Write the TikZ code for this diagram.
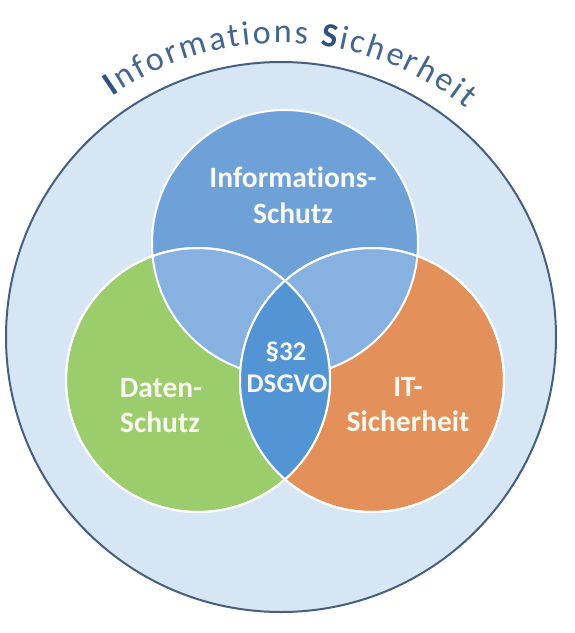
\documentclass[tikz,border=0pt]{standalone}
\usepackage{fontspec}
\setmainfont{Carlito}[Ligatures=CommonOff]
\usetikzlibrary{decorations.text,calc}
\definecolor{bgblue}{HTML}{D7E6F4}
\definecolor{rim}{HTML}{45607F}
\definecolor{infoblue}{HTML}{6FA1D9}
\definecolor{mixblue}{HTML}{86B1E0}
\definecolor{lensblue}{HTML}{5395D4}
\definecolor{dgreen}{HTML}{9CCD6C}
\definecolor{itorange}{HTML}{E4905A}
\definecolor{titlecol}{HTML}{43658E}
\definecolor{titlebold}{HTML}{2F5280}
\definecolor{labelcol}{HTML}{F8F8EE}
\begin{document}
\begin{tikzpicture}[x=1pt,y=1pt,
  lbl/.style={font=\fontsize{29.5}{34}\selectfont\bfseries, text=labelcol, inner sep=0pt, anchor=base},
  lenslbl/.style={lbl, font=\fontsize{27}{32}\selectfont\bfseries},
  whiteedge/.style={draw=white, line width=2pt}]
\useasboundingbox (0,0) rectangle (575,-633);
\fill[white] (0,0) rectangle (575,-633);
\coordinate (O) at (281,-337);
\coordinate (B) at (285,-243);
\coordinate (G) at (198,-380);
\coordinate (R) at (372,-380);
% outer circle
\filldraw[fill=bgblue, draw=rim, line width=2pt] (O) circle[radius=275];
% three circles
\fill[dgreen] (G) circle[radius=132];
\fill[itorange] (R) circle[radius=132];
\fill[infoblue] (B) circle[radius=133];
\begin{scope}
  \clip (B) circle[radius=133];
  \fill[mixblue] (G) circle[radius=132];
  \fill[mixblue] (R) circle[radius=132];
\end{scope}
\draw[whiteedge] (B) circle[radius=133];
\draw[whiteedge] (G) circle[radius=132];
\draw[whiteedge] (R) circle[radius=132];
\begin{scope}
  \clip (G) circle[radius=132];
  \fill[lensblue] (R) circle[radius=132];
\end{scope}
\draw[whiteedge] (G) circle[radius=132];
\draw[whiteedge] (R) circle[radius=132];
% title along arc
\path[decorate, decoration={text along path, text align={fit to path},
  text={|\fontsize{34}{40}\selectfont\bfseries\color{titlebold}|I|\fontsize{34}{40}\selectfont\mdseries\color{titlecol}|nformations |\fontsize{34}{40}\selectfont\bfseries\color{titlebold}|S|\fontsize{34}{40}\selectfont\mdseries\color{titlecol}|icherheit}}]
  ($(O)+(125:294)$) arc[start angle=125, end angle=51, radius=294];
% labels
\node[lbl] (info1) at (293,-187) {Informations-};
\node[lbl] (info2) at (293,-223) {Schutz};
\node[lbl] (dat1) at (161,-397) {Daten-};
\node[lbl] (dat2) at (160,-432) {Schutz};
\node[lbl] (it1) at (408,-396) {IT-};
\node[lbl] (it2) at (408,-431) {Sicherheit};
\node[lenslbl] (ds1) at (286,-360) {§32};
\node[lenslbl] (ds2) at (287,-392) {DSGVO};
\end{tikzpicture}
\end{document}
